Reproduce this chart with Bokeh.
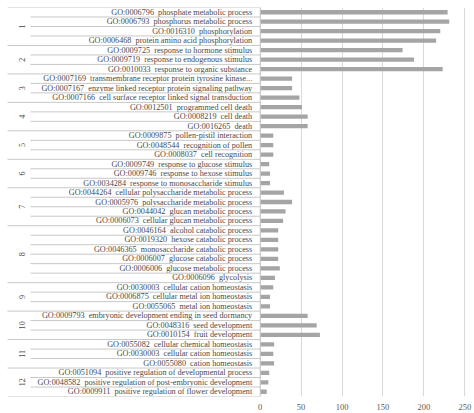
import numpy as np
from bokeh.plotting import figure
from bokeh.models import ColumnDataSource, Range1d, FixedTicker
from bokeh.core.properties import value
from bokeh.embed import file_html
from bokeh.resources import INLINE

# GO terms (top to bottom) and their gene counts
terms = [
    "GO:0006796  phosphate metabolic process",
    "GO:0006793  phosphorus metabolic process",
    "GO:0016310  phosphorylation",
    "GO:0006468  protein amino acid phosphorylation",
    "GO:0009725  response to hormone stimulus",
    "GO:0009719  response to endogenous stimulus",
    "GO:0010033  response to organic substance",
    "GO:0007169  transmembrane receptor protein tyrosine kinase...",
    "GO:0007167  enzyme linked receptor protein signaling pathway",
    "GO:0007166  cell surface receptor linked signal transduction",
    "GO:0012501  programmed cell death",
    "GO:0008219  cell death",
    "GO:0016265  death",
    "GO:0009875  pollen-pistil interaction",
    "GO:0048544  recognition of pollen",
    "GO:0008037  cell recognition",
    "GO:0009749  response to glucose stimulus",
    "GO:0009746  response to hexose stimulus",
    "GO:0034284  response to monosaccharide stimulus",
    "GO:0044264  cellular polysaccharide metabolic process",
    "GO:0005976  polysaccharide metabolic process",
    "GO:0044042  glucan metabolic process",
    "GO:0006073  cellular glucan metabolic process",
    "GO:0046164  alcohol catabolic process",
    "GO:0019320  hexose catabolic process",
    "GO:0046365  monosaccharide catabolic process",
    "GO:0006007  glucose catabolic process",
    "GO:0006006  glucose metabolic process",
    "GO:0006096  glycolysis",
    "GO:0030003  cellular cation homeostasis",
    "GO:0006875  cellular metal ion homeostasis",
    "GO:0055065  metal ion homeostasis",
    "GO:0009793  embryonic development ending in seed dormancy",
    "GO:0048316  seed development",
    "GO:0010154  fruit development",
    "GO:0055082  cellular chemical homeostasis",
    "GO:0030003  cellular cation homeostasis",
    "GO:0055080  cation homeostasis",
    "GO:0051094  positive regulation of developmental process",
    "GO:0048582  positive regulation of post-embryonic development",
    "GO:0009911  positive regulation of flower development",
]
counts = [229, 231, 220, 215, 174, 188, 223, 39, 39, 48, 51, 58, 58,
          16, 16, 16, 11, 12, 12, 29, 39, 31, 28, 22, 22, 22, 22, 24, 18,
          16, 12, 12, 58, 69, 73, 17, 16, 17, 11, 10, 8]
group_names = ["1", "2", "3", "4", "5", "6", "7", "8", "9", "10", "11", "12"]
group_sizes = [4, 3, 3, 3, 3, 3, 4, 6, 3, 3, 3, 3]
x_ticks = [0, 50, 100, 150, 200, 250]

# two spaces between the id and the description
terms = [t.replace("  ", " \u00a0") for t in terms]

W, H = 474, 413
TOP, BOTTOM = 7, 17
ZERO_PX = 259.7           # screen x of value 0
PX_PER_UNIT = 0.8184

x_start = -ZERO_PX / PX_PER_UNIT
x_end = (W - ZERO_PX) / PX_PER_UNIT


def px_to_x(px):
    return (px - ZERO_PX) / PX_PER_UNIT


n = len(terms)
rows = np.arange(n)

p = figure(width=W, height=H, output_backend="svg", toolbar_location=None,
           x_range=Range1d(x_start, x_end), y_range=Range1d(n - 0.5, -0.5),
           min_border_left=0, min_border_right=0,
           min_border_top=TOP, min_border_bottom=BOTTOM)
p.outline_line_color = None
p.background_fill_color = "white"
p.border_fill_color = "white"
p.yaxis.visible = False
p.ygrid.grid_line_color = None

p.xgrid.ticker = FixedTicker(ticks=x_ticks)
p.xgrid.grid_line_color = "#d9d9d9"
p.xgrid.grid_line_width = 1

ax = p.xaxis[0]
ax.ticker = FixedTicker(ticks=x_ticks)
ax.axis_line_color = None
ax.major_tick_line_color = None
ax.minor_tick_line_color = None
ax.major_tick_out = 0
ax.major_tick_in = 0
ax.major_label_standoff = 7
ax.major_label_text_font = "Liberation Serif"
ax.major_label_text_font_size = "8.5px"
ax.major_label_text_color = "#595959"

src = ColumnDataSource(dict(y=rows, v=counts, term=terms))

# bars
p.hbar(y="y", left=0, right="v", height=0.45, source=src,
       fill_color="#a5a5a5", line_color=None)

# category labels
p.text(x=0, y="y", text="term", source=src, x_offset=-8,
       text_align="right", text_baseline="middle",
       text_font=value("Liberation Serif"), text_font_size="8.2px",
       text_color="#4a4a4a")

# separators between rows and between groups
bounds = np.cumsum([0] + group_sizes)
group_edges = set(bounds.tolist())
sx0, sy0, sx1, sy1 = [], [], [], []
for k in range(n + 1):
    left_px = 7 if k in group_edges else 30
    sx0.append(px_to_x(left_px))
    sx1.append(0)
    sy0.append(k - 0.5)
    sy1.append(k - 0.5)
p.segment(x0=sx0, y0=sy0, x1=sx1, y1=sy1, line_color="#c8c8c8", line_width=1)

# value axis line at zero
p.segment(x0=[0], y0=[-0.5], x1=[0], y1=[n - 0.5], line_color="#c8c8c8", line_width=1)

# group numbers, rotated
centers = [(bounds[i] + bounds[i + 1] - 1) / 2 for i in range(len(group_sizes))]
p.text(x=[px_to_x(21.7)] * len(centers), y=centers, text=group_names,
       angle=np.pi / 2, text_align="center", text_baseline="middle",
       text_font=value("Liberation Serif"), text_font_size="8.2px",
       text_color="#4a4a4a")

open("out.html", "w").write(file_html(p, INLINE))
